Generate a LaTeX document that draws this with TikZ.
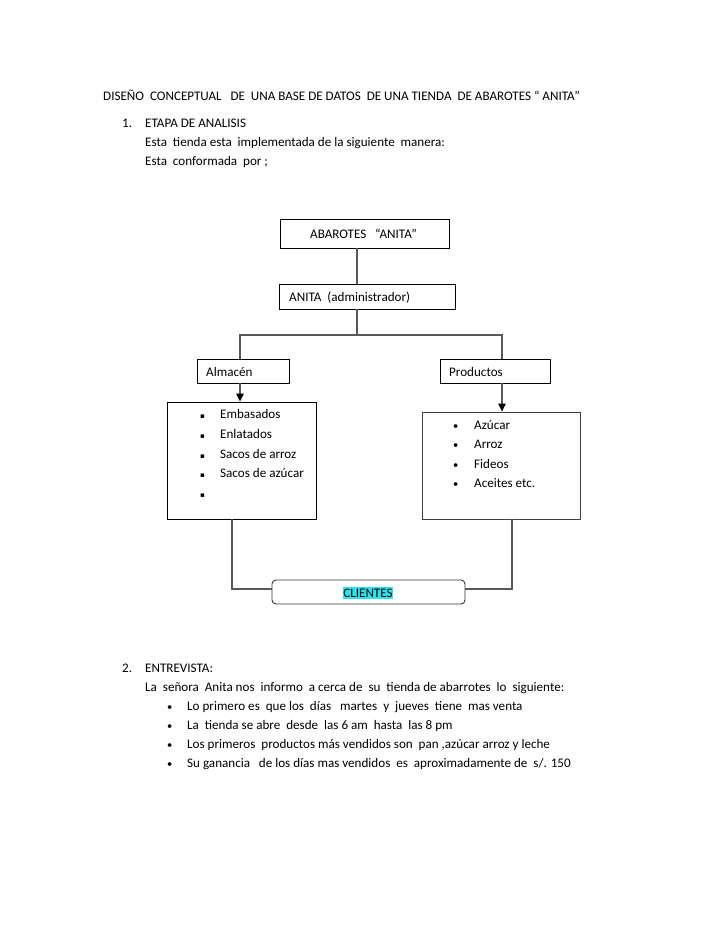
\documentclass[tikz,border=0pt]{standalone}
\usepackage{fontspec}
\setmainfont{Carlito}
\newfontfamily\symfont{DejaVu Sans}
\usetikzlibrary{arrows.meta}
\definecolor{hilite}{RGB}{40,230,240}
\tikzset{
  txt/.style={anchor=base west,inner sep=0pt,font=\fontsize{13.1}{15}\selectfont},
  box/.style={draw=black,line width=0.9pt,inner sep=0pt},
  conn/.style={draw=black!65,line width=1.1pt},
  arr/.style={conn,-{Triangle[length=8pt,width=7.5pt,color=black]}},
}
\newcommand{\sqb}{{\symfont\fontsize{7}{8}\selectfont ▪}}
\newcommand{\rdb}{{\fontsize{10.5}{11}\selectfont •}}
\begin{document}
\begin{tikzpicture}[x=1pt,y=-1pt]
\useasboundingbox[fill=white] (0,0) rectangle (728,943);
% header text
\node[txt] (title) at (103,100) {DISEÑO\ \ CONCEPTUAL\ \ \ DE\ \ UNA BASE DE DATOS\ \ DE UNA TIENDA\ \ DE ABAROTES “ ANITA”};
\node[txt] (n1) at (122,127) {1.};
\node[txt] (s1) at (145,127) {ETAPA DE ANALISIS};
\node[txt] (l1) at (145,146) {Esta\ \ tienda esta\ \ implementada de la siguiente\ \ manera:};
\node[txt] (l2) at (145,165) {Esta\ \ conformada\ \ por ;};
% boxes
\node[box,minimum width=169pt,minimum height=29pt] (abar) at (364.5,233.5) {};
\node[txt] (abart) at (310,238) {ABAROTES\ \ \ “ANITA”};
\node[box,minimum width=176pt,minimum height=25pt] (anita) at (367,296.5) {};
\node[txt] (anitat) at (289,301) {ANITA\ \ (administrador)};
\node[box,minimum width=92pt,minimum height=24pt] (alm) at (243,371) {};
\node[txt] (almt) at (206,376) {Almacén};
\node[box,minimum width=110pt,minimum height=24pt] (prod) at (495,371) {};
\node[txt] (prodt) at (449,376) {Productos};
\node[box,minimum width=149pt,minimum height=117pt] (lbox) at (241.5,460.5) {};
\node[box,draw=black!75,minimum width=158pt,minimum height=107pt] (rbox) at (501,465.5) {};
\node[box,draw=black!80,rounded corners=4pt,minimum width=193pt,minimum height=24pt] (cli) at (368.5,592) {};
\node[txt,fill=hilite,inner xsep=0.3pt,inner ysep=2pt,anchor=base] (clit) at (368,597) {CLIENTES};
% left list
\foreach \y/\t [count=\i] in {418/Embasados,438/Enlatados,458/Sacos de arroz,477/Sacos de azúcar}{
  \node[txt] (lb\i) at (200,\y) {\sqb};
  \node[txt] (lt\i) at (220,\y) {\t};
}
\node[txt] (lb5) at (200,497) {\sqb};
% right list
\foreach \y/\t [count=\i] in {429/Azúcar,448/Arroz,468/Fideos,487/Aceites etc.}{
  \node[txt] (rb\i) at (453,\y) {\rdb};
  \node[txt] (rt\i) at (474,\y) {\t};
}
% connectors
\coordinate (j) at (357,335);
\draw[conn] (abar.south -| j) -- (anita.north -| j);
\draw[conn] (anita.south -| j) -- (j);
\coordinate (jl) at (240,335);
\coordinate (jr) at (502,335);
\draw[conn] (jl |- alm.north) -- (jl) -- (jr) -- (jr |- prod.north);
\draw[arr] (alm.south -| jl) -- (lbox.north -| jl);
\draw[arr] (prod.south -| jr) -- (rbox.north -| jr);
\coordinate (bl) at (232,589);
\coordinate (br) at (512,589);
\draw[conn] (lbox.south -| bl) -- (bl) -- (cli.west |- bl);
\draw[conn] (rbox.south -| br) -- (br) -- (cli.east |- br);
% section 2
\node[txt] (n2) at (122,672) {2.};
\node[txt] (s2) at (145,672) {ENTREVISTA:};
\node[txt] (m1) at (145,691) {La\ \ señora\ \ Anita nos\ \ informo\ \ a cerca de\ \ su\ \ tienda de abarrotes\ \ lo\ \ siguiente:};
\foreach \y/\t [count=\i] in {710/{Lo primero es\ \ que los\ \ días\ \ \ martes\ \ y\ \ jueves\ \ tiene\ \ mas venta},729/{La\ \ tienda se abre\ \ desde\ \ las 6 am\ \ hasta\ \ las 8 pm},748/{Los primeros\ \ productos más vendidos son\ \ pan ,azúcar arroz y leche},767/{Su ganancia\ \ \ de los días mas vendidos\ \ es\ \ aproximadamente de\ \ s/. 150}}{
  \node[txt] (eb\i) at (167,\y) {\rdb};
  \node[txt] (et\i) at (187,\y) {\t};
}
\end{tikzpicture}
\end{document}
